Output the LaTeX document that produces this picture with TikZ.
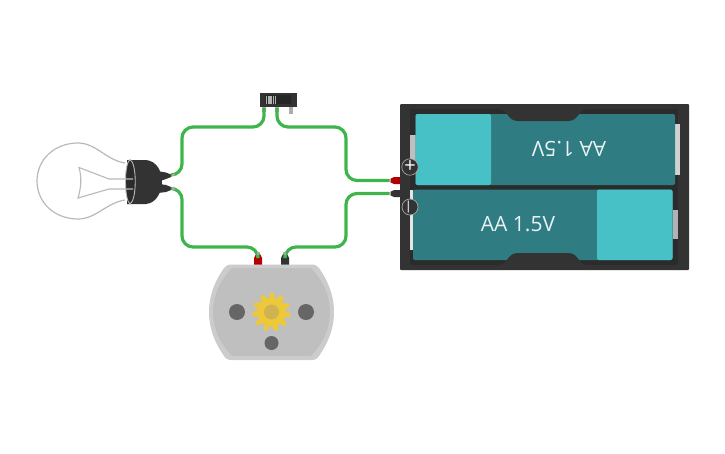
\documentclass[tikz,border=0pt]{standalone}
\usepackage{fontspec}
\setmainfont{Open Sans}
\usepackage{tikz}
\usetikzlibrary{positioning}
\definecolor{wiregreen}{HTML}{3DB54A}
\definecolor{holder}{HTML}{333333}
\definecolor{holderin}{HTML}{2B2B2B}
\definecolor{cell}{HTML}{2F7C83}
\definecolor{cellcap}{HTML}{47C1C6}
\definecolor{gearcol}{HTML}{EDC93A}
\tikzstyle{wire} = [draw=wiregreen, line width=3.2pt, rounded corners=11pt]
\tikzstyle{tip} = [draw=gray!70, line width=2.4pt]
\tikzstyle{pole} = [circle, draw=gray!70, fill=holder, text=white, minimum size=16pt, inner sep=0pt, line width=.7pt, font=\fontsize{20}{20}\selectfont]
\tikzstyle{celltext} = [text=white!90!cell, font=\fontsize{21}{21}\selectfont]
\tikzstyle{hole} = [circle, fill=black!60, inner sep=0pt]
\begin{document}
\begin{tikzpicture}[x=1pt,y=-1pt]
	\useasboundingbox (0,0) rectangle (725,453);
	% terminals
	\coordinate (lampa) at (172,175);
	\coordinate (lampb) at (172,188.5);
	\coordinate (swa) at (264,108);
	\coordinate (swb) at (277,108);
	\coordinate (bata) at (389,180.5);
	\coordinate (batb) at (389,193.5);
	\coordinate (mota) at (258,252);
	\coordinate (motb) at (285,252);
	% lamp
	\draw[gray!55, line width=1.2pt, fill=white] (125,163) .. controls (106,160) and (96,143) .. (78,143)
		.. controls (55,143) and (37,159) .. (37,181) .. controls (37,203) and (55,219) .. (78,219)
		.. controls (96,219) and (106,203) .. (125,200);
	\fill[holder] (127,160) -- (146,160) .. controls (157,161) and (162,172) .. (162,181)
		.. controls (162,191) and (157,203) .. (146,204) -- (127,204) -- cycle;
	\fill[holder] (160,171.5) -- (166,172.5) -- (171,174.5) -- (171,177) -- (166,179) -- (160,181) -- cycle;
	\fill[holder] (160,184) -- (166,185) -- (171,187) -- (171,190) -- (166,192) -- (158,193) -- cycle;
	\draw[gray!55, line width=.9pt, fill=holderin] (130,159.5) .. controls (137,163) and (137,200) .. (130,204)
		.. controls (124,200) and (124,163) .. (130,159.5);
	\draw[gray!55, line width=1.1pt] (133,179) -- (109,179) -- (79,167.5) .. controls (82,178) and (81,188) .. (78,198) -- (109,189) -- (133,189);
	% switch
	\fill[gray!65] (262,105) rectangle (266,112);
	\fill[gray!65] (275,105) rectangle (279,112);
	\fill[gray!65] (289,105) rectangle (293,114);
	\fill[holder] (260,93) rectangle (297,107);
	\fill[black!85] (265,95) rectangle (291,104);
	\foreach \k in {0,...,4}
		\fill[gray!60] (266+2.2*\k,95.5) rectangle ++(1.4,8);
	% motor
	\fill[black!20] (232,264.5) -- (311,264.5) .. controls (315,264.5) and (317,265.5) .. (319,268)
		.. controls (328,281) and (334,295) .. (334,312) .. controls (334,329) and (328,343) .. (319,356)
		.. controls (317,359) and (315,360) .. (311,360) -- (232,360) .. controls (228,360) and (226,359) .. (224,356)
		.. controls (215,343) and (209,329) .. (209,312) .. controls (209,295) and (215,281) .. (224,268)
		.. controls (226,265.5) and (228,264.5) .. (232,264.5) -- cycle;
	\fill[black!25] (232,268) -- (311,268) .. controls (323,281) and (330,295) .. (330,312)
		.. controls (330,329) and (323,343) .. (311,356) -- (232,356)
		.. controls (220,343) and (213,329) .. (213,312) .. controls (213,295) and (220,281) .. (232,268) -- cycle;
	\node[hole, minimum size=16pt] (holea) at (237,312) {};
	\node[hole, minimum size=16pt] (holeb) at (306,312) {};
	\node[hole, minimum size=14pt] (holec) at (271.5,343) {};
	\fill[gearcol] (271.5,312) circle (14.5);
	\foreach \a in {10,42.7,...,340}
		\draw[gearcol, line width=5pt, line cap=round] (271.5,312) -- ++(\a:17);
	\fill[yellow!45!gray!75!orange] (271.5,312) circle (7.5);
	\fill[red!70!black] (254,264.5) -- (254,258) -- (256,254) -- (260,254) -- (262,258) -- (262,264.5) -- cycle;
	\fill[holder] (281,264.5) -- (281,258) -- (283,254) -- (287,254) -- (289,258) -- (289,264.5) -- cycle;
	% battery
	\fill[holder, rounded corners=1pt] (400,104) rectangle (689,270);
	\fill[holderin] (410,109) rectangle (678,265);
	\fill[gray!50] (410,135) rectangle (415.5,172);
	\fill[gray!35] (675,124) rectangle (679.5,175);
	\fill[gray!20] (410,190) rectangle (413,250);
	\fill[gray!60] (672.5,210) rectangle (678,239);
	\fill[cell, rounded corners=2pt] (415.5,114) rectangle (675,185);
	\fill[cellcap, rounded corners=2pt] (415.5,114) rectangle (491,185);
	\fill[cell, rounded corners=2pt] (413,189.5) rectangle (672.5,260);
	\fill[cellcap, rounded corners=2pt] (597,189.5) rectangle (672.5,260);
	\fill[holder] (498,109) .. controls (508,109) and (507,121) .. (518,121) -- (568,121) .. controls (579,121) and (578,109) .. (588,109) -- cycle;
	\fill[holder] (498,265) .. controls (508,265) and (507,253) .. (518,253) -- (568,253) .. controls (579,253) and (578,265) .. (588,265) -- cycle;
	\node[celltext, rotate=180] (labela) at (569,149) {AA 1.5V};
	\node[celltext] (labelb) at (518,224) {AA 1.5V};
	\node[pole] (plus) at (410,167) {+};
	\node[pole] (minus) at (410,207) {\rotatebox{90}{\fontsize{13}{13}\selectfont ---}};
	\fill[red!70!black] (400,177) -- (394,177) -- (390,179) -- (390,182) -- (394,184) -- (400,184) -- cycle;
	\fill[holder] (400,190) -- (394,190) -- (390,192) -- (390,195) -- (394,197) -- (400,197) -- cycle;
	% wires
	\draw[wire] (lampa) -- (182,175) -- (182,127) -- (264,127) -- (swa);
	\draw[wire] (swb) -- (277,127) -- (346,127) -- (346,180.5) -- (bata);
	\draw[wire] (lampb) -- (182,188.5) -- (182,247) -- (258,247) -- (mota);
	\draw[wire] (motb) -- (285,247) -- (346,247) -- (346,193.5) -- (batb);
	\draw[tip] (lampa) -- ++(3,0);
	\draw[tip] (lampb) -- ++(3,0);
	\draw[tip] (mota) -- ++(0,3);
	\draw[tip] (motb) -- ++(0,3);
	\draw[tip] (bata) -- ++(2,0);
	\draw[tip] (batb) -- ++(2,0);
\end{tikzpicture}
\end{document}
